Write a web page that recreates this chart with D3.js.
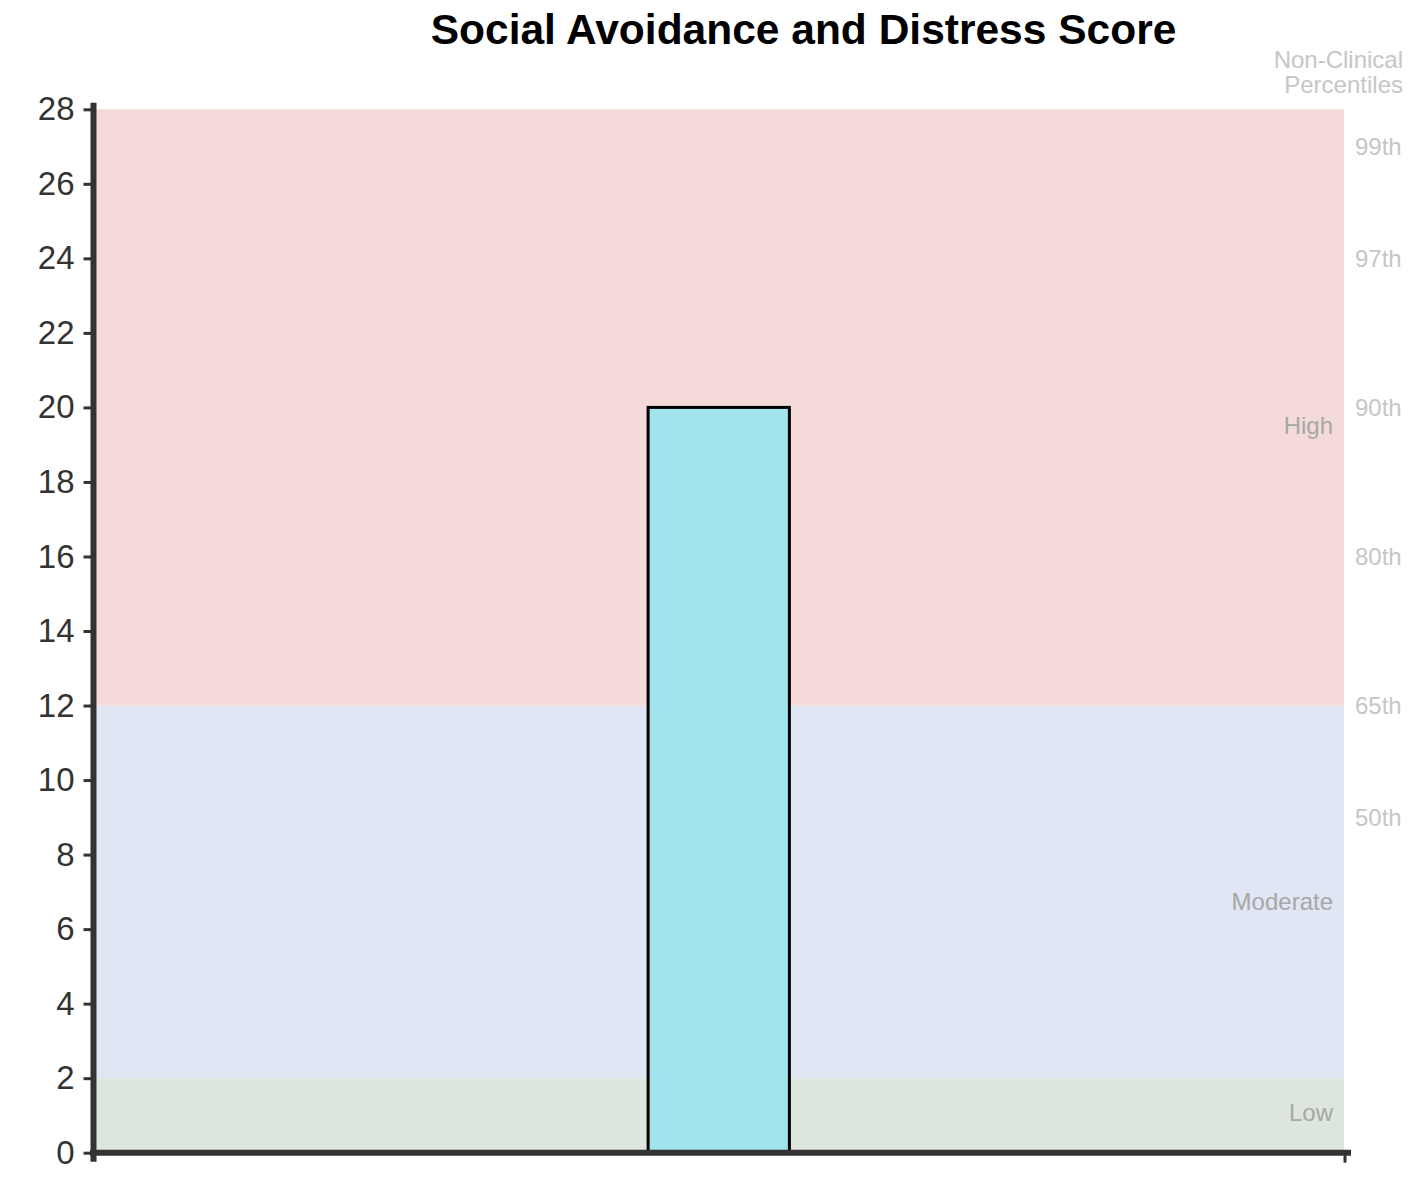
<!DOCTYPE html>
<html>
<head>
<meta charset="utf-8">
<script src="https://cdn.jsdelivr.net/npm/d3@7"></script>
<style>
  body { margin: 0; background: #fff; }
  svg { display: block; font-family: "Liberation Sans", Arial, Helvetica, sans-serif; }
</style>
</head>
<body>
<svg id="chart" width="1428" height="1198"></svg>
<script>
// ---- data ----
const title = "Social Avoidance and Distress Score";
const categories = ["Score"];
const scores = [20];
const yTicks = [0, 2, 4, 6, 8, 10, 12, 14, 16, 18, 20, 22, 24, 26, 28];
const yMax = 28;

const bandNames = ["Low", "Moderate", "High"];
const bandFrom = [0, 2, 12];
const bandTo = [2, 12, 28];
const bandColors = ["#dde6dd", "#e0e6f3", "#f4dad8"];
const bandLabelAt = [1.07, 6.75, 19.5];

const pctLabels = ["50th", "65th", "80th", "90th", "97th", "99th"];
const pctValues = [9, 12, 16, 20, 24, 27];
const pctHeader = ["Non-Clinical", "Percentiles"];

// ---- layout ----
const svg = d3.select("#chart");
const plotLeft = 93.5, plotRight = 1344, plotTop = 109.3, plotBottom = 1152.7;

const x = d3.scaleBand().domain(categories).range([plotLeft, plotRight]).paddingInner(0.797).paddingOuter(0.797);
const y = d3.scaleLinear().domain([0, yMax]).range([plotBottom, plotTop]);

// bands
svg.append("g").selectAll("rect").data(bandNames).join("rect")
  .attr("x", plotLeft)
  .attr("width", plotRight - plotLeft)
  .attr("y", (d, i) => y(bandTo[i]))
  .attr("height", (d, i) => y(bandFrom[i]) - y(bandTo[i]))
  .attr("fill", (d, i) => bandColors[i]);

// band labels
svg.append("g").selectAll("text").data(bandNames).join("text")
  .attr("x", plotRight - 11)
  .attr("y", (d, i) => y(bandLabelAt[i]))
  .attr("dy", "0.35em")
  .attr("text-anchor", "end")
  .attr("font-size", 24)
  .attr("fill", "#a7a7a7")
  .text(d => d);

// bar
svg.append("g").selectAll("rect").data(scores).join("rect")
  .attr("x", (d, i) => x(categories[i]))
  .attr("width", x.bandwidth())
  .attr("y", d => y(d))
  .attr("height", d => y(0) - y(d))
  .attr("fill", "#a2e4ee")
  .attr("stroke", "#000")
  .attr("stroke-width", 3);

// percentile labels
svg.append("g").selectAll("text").data(pctLabels).join("text")
  .attr("x", plotRight + 11)
  .attr("y", (d, i) => y(pctValues[i]))
  .attr("dy", "0.35em")
  .attr("font-size", 24)
  .attr("fill", "#c6c6c6")
  .text(d => d);

svg.append("g").selectAll("text").data(pctHeader).join("text")
  .attr("x", 1403)
  .attr("y", (d, i) => 60 + i * 25)
  .attr("dy", "0.35em")
  .attr("text-anchor", "end")
  .attr("font-size", 24)
  .attr("fill", "#c6c6c6")
  .text(d => d);

// y axis
const yAxis = svg.append("g")
  .attr("transform", `translate(${plotLeft},0)`)
  .call(d3.axisLeft(y).tickValues(yTicks).tickSize(10).tickPadding(9).tickSizeOuter(0));
yAxis.select(".domain")
  .attr("d", `M0,${y(yMax) - 6.6}V${y(0) + 9}`)
  .attr("stroke", "#333").attr("stroke-width", 6);
yAxis.selectAll(".tick line").attr("stroke", "#333").attr("stroke-width", 3);
yAxis.selectAll(".tick text").attr("font-size", 33).attr("fill", "#333")
  .attr("font-family", "'Liberation Sans', Arial, sans-serif");

// x axis
const xAxis = svg.append("g")
  .attr("transform", `translate(0,${plotBottom})`)
  .call(d3.axisBottom(x).tickValues([]).tickSizeOuter(0));
xAxis.select(".domain")
  .attr("d", `M${plotLeft - 3.5},0H${plotRight + 7}`)
  .attr("stroke", "#333").attr("stroke-width", 6);
xAxis.selectAll(".endtick").data([plotRight]).join("line")
  .attr("class", "endtick")
  .attr("x1", d => d + 1).attr("x2", d => d + 1)
  .attr("y1", 0).attr("y2", 10)
  .attr("stroke", "#333").attr("stroke-width", 3);

// title
svg.append("text")
  .attr("x", 803.5)
  .attr("y", 44)
  .attr("text-anchor", "middle")
  .attr("font-size", 42.5)
  .attr("font-weight", "bold")
  .attr("fill", "#000")
  .text(title);
</script>
</body>
</html>
